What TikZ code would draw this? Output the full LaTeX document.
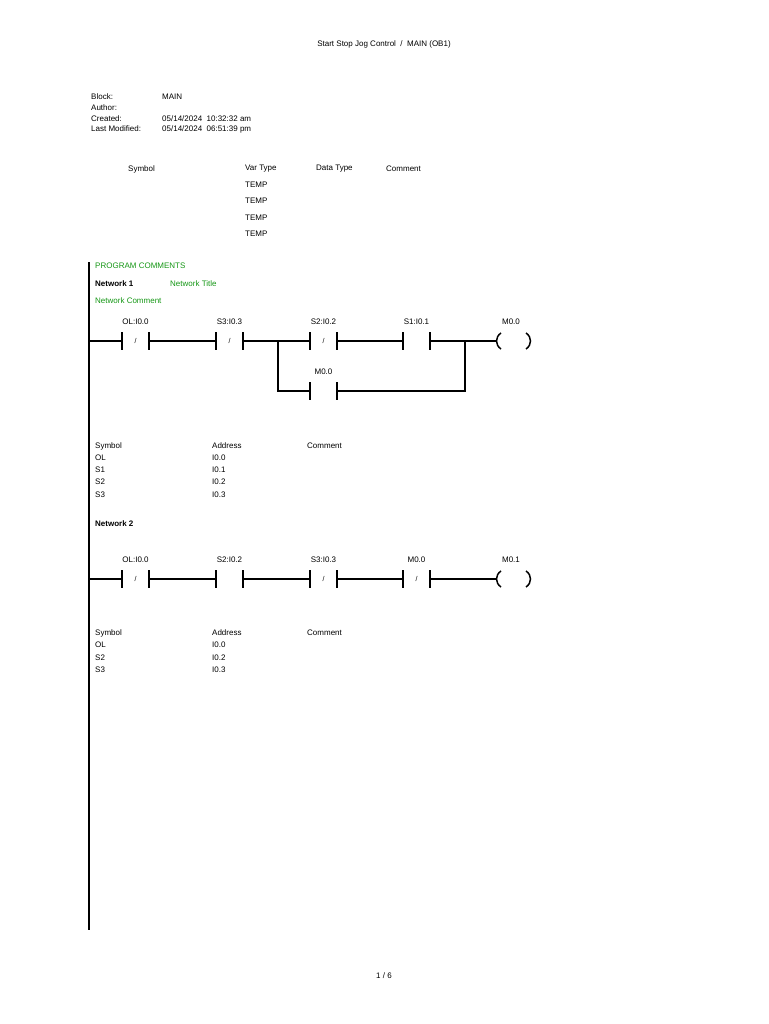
\documentclass[tikz,border=0pt]{standalone}
\usepackage{fontspec}
\setmainfont{Liberation Sans}
\begin{document}
\begin{tikzpicture}[x=1pt,y=-1pt,
  txt/.style={anchor=west,inner sep=0,font=\fontsize{8}{9}\selectfont},
  grn/.style={txt,text={rgb,255:red,20;green,150;blue,20}},
  bld/.style={txt,font=\fontsize{8}{9}\selectfont\bfseries},
  lbl/.style={inner sep=0,font=\fontsize{8}{9}\selectfont},
  wire/.style={line width=1.3pt},
  bar/.style={line width=1.5pt}]
\useasboundingbox (0,0) rectangle (768,1024);
\node[lbl] (title) at (384,44) {Start Stop Jog Control \ / \ MAIN (OB1)};
\node[lbl] (foot) at (384,976) {1 / 6};
\node[txt] (k1) at (91,97) {Block:}; \node[txt] (v1) at (162,97) {MAIN};
\node[txt] (k2) at (91,108) {Author:};
\node[txt] (k3) at (91,119) {Created:}; \node[txt] (v3) at (162,119) {05/14/2024\ \ 10:32:32 am};
\node[txt] (k4) at (91,129) {Last Modified:}; \node[txt] (v4) at (162,129) {05/14/2024\ \ 06:51:39 pm};
\node[txt] (hsym) at (128,169) {Symbol};
\node[txt] (hvar) at (245,169) {Var Type};
\node[txt] (hdt) at (316,169) {Data Type};
\node[txt] (hcom) at (386,169) {Comment};
\foreach \y in {185,201,218,234} \node[txt] at (245,\y) {TEMP};
\draw[line width=1.6pt] (89,262) coordinate (railtop) -- (89,930) coordinate (railbot);
\node[grn] (pc) at (95,266) {PROGRAM COMMENTS};
\node[bld] (n1) at (95,284) {Network 1};
\node[grn] (nt) at (170,284) {Network Title};
\node[grn] (nc) at (95,301) {Network Comment};
\newcommand{\contact}[5]{% x, y, label, nc(1/0), name
  \draw[bar] (#1,#2-9) -- (#1,#2+9);
  \draw[bar] (#1+27,#2-9) -- (#1+27,#2+9);
  \coordinate (#5L) at (#1,#2); \coordinate (#5R) at (#1+27,#2);
  \node[lbl] at (#1+13.5,#2-19) {#3};
  \ifnum#4=1 \node[lbl,font=\fontsize{7}{8}\selectfont] at (#1+13.5,#2) {/};\fi}
\newcommand{\coil}[4]{% x,y,label,name
  \draw[bar] (#1+5,#2-8) .. controls (#1-1,#2-4) and (#1-1,#2+4) .. (#1+5,#2+8);
  \draw[bar] (#1+30,#2-8) .. controls (#1+36,#2-4) and (#1+36,#2+4) .. (#1+30,#2+8);
  \coordinate (#4L) at (#1+0.8,#2);
  \node[lbl] at (#1+15,#2-19) {#3};}
% Network 1
\contact{122}{341}{OL:I0.0}{1}{a}
\contact{216}{341}{S3:I0.3}{1}{b}
\contact{310}{341}{S2:I0.2}{1}{c}
\contact{403}{341}{S1:I0.1}{0}{d}
\contact{310}{391}{M0.0}{0}{e}
\coil{496}{341}{M0.0}{f}
\draw[wire] (89,341) -- (aL);
\draw[wire] (aR) -- (bL);
\draw[wire] (bR) -- (cL);
\draw[wire] (cR) -- (dL);
\draw[wire] (dR) -- (fL);
\draw[wire] (278,341) -- (278,391) -- (eL);
\draw[wire] (eR) -- (465,391) -- (465,341);
\node[txt] at (95,446) {Symbol}; \node[txt] at (212,446) {Address}; \node[txt] at (307,446) {Comment};
\foreach \s/\a/\y in {OL/I0.0/458,S1/I0.1/470,S2/I0.2/482,S3/I0.3/495}{
  \node[txt] at (95,\y) {\s}; \node[txt] at (212,\y) {\a};}
\node[bld] (n2) at (95,524) {Network 2};
% Network 2
\contact{122}{579}{OL:I0.0}{1}{g}
\contact{216}{579}{S2:I0.2}{0}{h}
\contact{310}{579}{S3:I0.3}{1}{i}
\contact{403}{579}{M0.0}{1}{j}
\coil{496}{579}{M0.1}{k}
\draw[wire] (89,579) -- (gL);
\draw[wire] (gR) -- (hL);
\draw[wire] (hR) -- (iL);
\draw[wire] (iR) -- (jL);
\draw[wire] (jR) -- (kL);
\node[txt] at (95,633) {Symbol}; \node[txt] at (212,633) {Address}; \node[txt] at (307,633) {Comment};
\foreach \s/\a/\y in {OL/I0.0/645,S2/I0.2/658,S3/I0.3/670}{
  \node[txt] at (95,\y) {\s}; \node[txt] at (212,\y) {\a};}
\end{tikzpicture}
\end{document}
